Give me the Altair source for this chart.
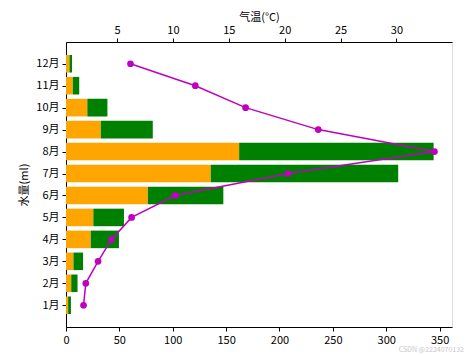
import altair as alt
import pandas as pd

months = ["1月", "2月", "3月", "4月", "5月", "6月", "7月", "8月", "9月", "10月", "11月", "12月"]
evaporation = [2.0, 4.9, 7.0, 23.2, 25.6, 76.7, 135.6, 162.2, 32.6, 20.0, 6.4, 3.3]
precipitation = [2.6, 5.9, 9.0, 26.4, 28.7, 70.7, 175.6, 182.2, 48.7, 18.8, 6.0, 2.3]
temperature = [2.0, 2.2, 3.3, 4.5, 6.3, 10.2, 20.3, 33.4, 23.0, 16.5, 12.0, 6.2]

df = pd.DataFrame({
    "idx": list(range(len(months))),
    "month": months,
    "evap": evaporation,
    "precip": precipitation,
    "temp": temperature,
})

FONT = "Noto Sans CJK SC"
label_expr = "[" + ",".join("'%s'" % m for m in months) + "][datum.value]"

y_scale = alt.Scale(domain=[-0.99, 11.99], nice=False, zero=False)
x_scale = alt.Scale(domain=[0, 361.6], nice=False, zero=False)

y_axis = alt.Axis(values=list(range(12)), labelExpr=label_expr, title="水量(ml)",
                  grid=False, tickSize=4, labelFontSize=11, titleFontSize=11,
                  labelFont=FONT, titleFont=FONT, labelColor="black", titleColor="black",
                  titleFontWeight="normal",
                  domainColor="black", tickColor="black", labelPadding=3, titlePadding=6)

x_axis = alt.Axis(values=[0, 50, 100, 150, 200, 250, 300, 350], title=None, grid=False,
                  tickSize=4, labelFontSize=11, labelFont=FONT, labelColor="black",
                  domainColor="black", tickColor="black", labelPadding=3, labelFlush=False)

base = alt.Chart(df).transform_calculate(
    y0="datum.idx - 0.4", y1="datum.idx + 0.4", total="datum.evap + datum.precip"
)

bar_evap = base.mark_bar(color="orange").encode(
    x=alt.X("zero:Q", scale=x_scale, axis=x_axis),
    x2="evap:Q",
    y=alt.Y("y0:Q", scale=y_scale, axis=y_axis),
    y2="y1:Q",
).transform_calculate(zero="0")

bar_prec = base.mark_bar(color="green").encode(
    x=alt.X("evap:Q", scale=x_scale, axis=x_axis),
    x2="total:Q",
    y=alt.Y("y0:Q", scale=y_scale, axis=y_axis),
    y2="y1:Q",
)

t_scale = alt.Scale(domain=[0.43, 34.97], nice=False, zero=False)
t_axis = alt.Axis(orient="top", values=[5, 10, 15, 20, 25, 30], title="气温(°C)", grid=False,
                  tickSize=4, labelFontSize=11, titleFontSize=11, labelFont=FONT, titleFont=FONT,
                  titleFontWeight="normal",
                  labelColor="black", titleColor="black", domainColor="black", tickColor="black",
                  labelPadding=3, titlePadding=2)

line = alt.Chart(df).mark_line(color="#bf00bf", strokeWidth=1.5, point=alt.OverlayMarkDef(
    color="#bf00bf", size=45, filled=True, opacity=1)).encode(
    x=alt.X("temp:Q", scale=t_scale, axis=t_axis),
    y=alt.Y("idx:Q", scale=y_scale, axis=y_axis),
    order="idx:Q",
)

wm = alt.Chart(pd.DataFrame({"t": ["CSDN @2224070132"]})).mark_text(
    align="right", baseline="bottom", fontSize=7, color="#c8c8c8", font=FONT
).encode(text="t:N", x=alt.value(398), y=alt.value(311))

bars = alt.layer(bar_evap, bar_prec)
chart = alt.layer(bars, line, wm).resolve_scale(x="independent").properties(
    width=386, height=285,
    padding={"left": 58, "top": 34, "right": 14, "bottom": 28},
    autosize=alt.AutoSizeParams(type="none"),
).configure_view(stroke="black", strokeWidth=1).configure(background="white")

chart.save("out.html", embed_options={"renderer": "svg", "actions": False})
